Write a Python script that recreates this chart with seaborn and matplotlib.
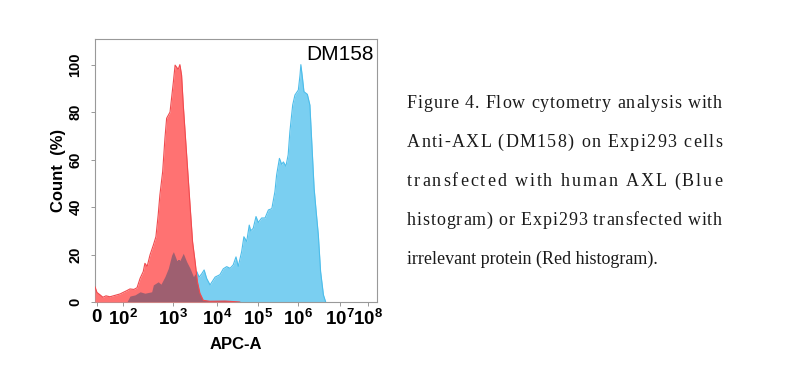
import numpy as np
import pandas as pd
import matplotlib
matplotlib.use("Agg")
import matplotlib.pyplot as plt
import seaborn as sns

# histogram outlines; x is display channel (0-1000), y is % of max
red_channel = [0, 7, 18, 28, 39, 53, 71, 89, 99, 113, 124, 138, 149, 160, 171, 177, 185,
               195, 207, 216, 224, 230, 240, 248, 254, 266, 278, 284, 295, 301, 307, 313,
               325, 337, 346, 355, 363, 372, 384, 408, 461, 514]
red_count = [6.4, 4.0, 3.0, 2.0, 2.6, 2.2, 2.8, 3.4, 4.0, 4.8, 5.5, 5.3, 6.0, 10.0, 12.8, 16.3, 15.0,
             19.8, 24.0, 27.5, 36.6, 45.0, 55.0, 69.0, 77.4, 80.0, 92.8, 99.8, 98.0, 100.0, 95.6, 83.0,
             62.0, 40.9, 25.4, 17.0, 8.6, 3.7, 0.7, 0.3, 0.4, 0.0]

blue_channel = [113, 124, 142, 160, 177, 201, 207, 224, 234, 248, 260, 272, 278, 290, 301, 313,
                325, 337, 349, 361, 369, 378, 387, 396, 408, 426, 443, 455, 467, 479, 490, 500,
                508, 520, 528, 538, 547, 552, 561, 571, 579, 591, 603, 615, 627, 638, 644, 654,
                662, 668, 677, 685, 691, 701, 709, 721, 727, 730, 736, 741, 753, 762, 768, 777,
                784, 792, 800, 810, 818]
blue_count = [0.0, 2.5, 3.0, 4.3, 3.7, 4.3, 7.2, 8.5, 7.5, 10.7, 14.2, 19.8, 21.2, 17.5, 17.5, 20.5,
              17.0, 14.2, 10.7, 12.8, 10.5, 11.8, 13.5, 9.9, 7.2, 10.5, 11.5, 14.0, 14.9, 14.2, 15.6, 19.0,
              15.0, 21.2, 27.5, 25.5, 32.4, 30.0, 31.0, 36.0, 33.5, 35.4, 35.4, 38.8, 39.3, 46.5, 53.5, 60.5,
              58.0, 59.0, 57.2, 62.0, 71.7, 83.0, 87.2, 89.3, 95.6, 100.0, 94.0, 88.6, 87.5, 83.0, 69.0, 47.9,
              38.5, 28.2, 12.8, 3.0, 0.0]

x_tick_pos = [7, 99, 277, 433, 578, 720, 869, 968]
x_tick_labels = [r"$\mathbf{0}$", r"$\mathbf{10^{2}}$", r"$\mathbf{10^{3}}$", r"$\mathbf{10^{4}}$",
                 r"$\mathbf{10^{5}}$", r"$\mathbf{10^{6}}$", r"$\mathbf{10^{7}}$", r"$\mathbf{10^{8}}$"]
y_ticks = [0, 20, 40, 60, 80, 100]

caption_lines = [
    "Figure 4. Flow cytometry analysis with",
    "Anti-AXL (DM158) on Expi293 cells",
    "transfected with human AXL (Blue",
    "histogram) or Expi293 transfected with",
    "irrelevant protein (Red histogram).",
]

sns.set_theme(style="white")
plt.rcParams["font.family"] = ["Liberation Sans", "DejaVu Sans"]
plt.rcParams["mathtext.fontset"] = "custom"
plt.rcParams["mathtext.bf"] = "Liberation Sans:bold"
plt.rcParams["mathtext.rm"] = "Liberation Sans"
plt.rcParams["text.color"] = "black"
plt.rcParams["axes.labelcolor"] = "black"
plt.rcParams["xtick.labelcolor"] = "black"
plt.rcParams["ytick.labelcolor"] = "black"

red_df = pd.DataFrame({"channel": red_channel, "count": red_count})
blue_df = pd.DataFrame({"channel": blue_channel, "count": blue_count})

fig = plt.figure(figsize=(8, 3.69), dpi=100)
ax = fig.add_axes([95 / 800, 1 - 302 / 369, 282 / 800, 263 / 369])

ax.fill_between(blue_df["channel"], blue_df["count"], color="#7ACFF1", lw=0, zorder=1)
sns.lineplot(data=blue_df, x="channel", y="count", color="#4DBDEA", lw=0.8,
             estimator=None, sort=False, ax=ax, zorder=2)
red_fill = ax.fill_between(red_df["channel"], red_df["count"], color="#FF7272", lw=0, zorder=3)
overlap = ax.fill_between(blue_df["channel"], blue_df["count"], color="#9E5F70", lw=0, zorder=4)
overlap.set_clip_path(red_fill.get_paths()[0], ax.transData)
sns.lineplot(data=red_df, x="channel", y="count", color="#F04A4E", lw=0.8,
             estimator=None, sort=False, ax=ax, zorder=5)

ax.set_xlim(0, 1000)
ax.set_ylim(0, 110.8)
ax.set_xticks(x_tick_pos)
ax.set_xticklabels(x_tick_labels, fontsize=13.5)
ax.set_yticks(y_ticks)
ax.set_yticklabels([str(v) for v in y_ticks], fontsize=10.5, fontweight="bold",
                   rotation=90, va="center")
ax.tick_params(axis="both", direction="out", length=3, width=0.6, color="#888888",
               left=True, bottom=True)
ax.tick_params(axis="x", pad=2)
ax.tick_params(axis="y", pad=6)
for s in ax.spines.values():
    s.set_color("#999999")
    s.set_linewidth(0.8)

ax.set_xlabel("APC-A", fontsize=12, fontweight="bold", labelpad=6)
ax.set_ylabel("Count  (%)", fontsize=12, fontweight="bold", labelpad=2)

ax.text(0.99, 0.94, "DM158", transform=ax.transAxes, ha="right", va="center", fontsize=15)

# caption, lines 1-4 justified by spreading space between the letters
x0, x1 = 407, 722
baselines = [108, 147, 186, 225, 264]
kw = dict(family=["Liberation Serif", "DejaVu Serif"], fontsize=13, va="baseline", color="#1a1a1a")
fig.canvas.draw()
renderer = fig.canvas.get_renderer()


def text_w(s):
    t = fig.text(0, 0, s + "|", **kw)
    w = t.get_window_extent(renderer).width
    t.remove()
    return w


bar_w = text_w("")
for i, line in enumerate(caption_lines):
    yy = 1 - baselines[i] / 369
    if i < len(caption_lines) - 1:
        offs = [text_w(line[:k]) - bar_w for k in range(len(line))]
        natural = text_w(line) - bar_w
        extra = (x1 - x0 - natural) / (len(line) - 1)
        for k, ch in enumerate(line):
            if ch == " ":
                continue
            fig.text((x0 + offs[k] + k * extra) / 800, yy, ch, **kw)
    else:
        fig.text(x0 / 800, yy, line, **kw)

fig.savefig("out.png", dpi=100)
